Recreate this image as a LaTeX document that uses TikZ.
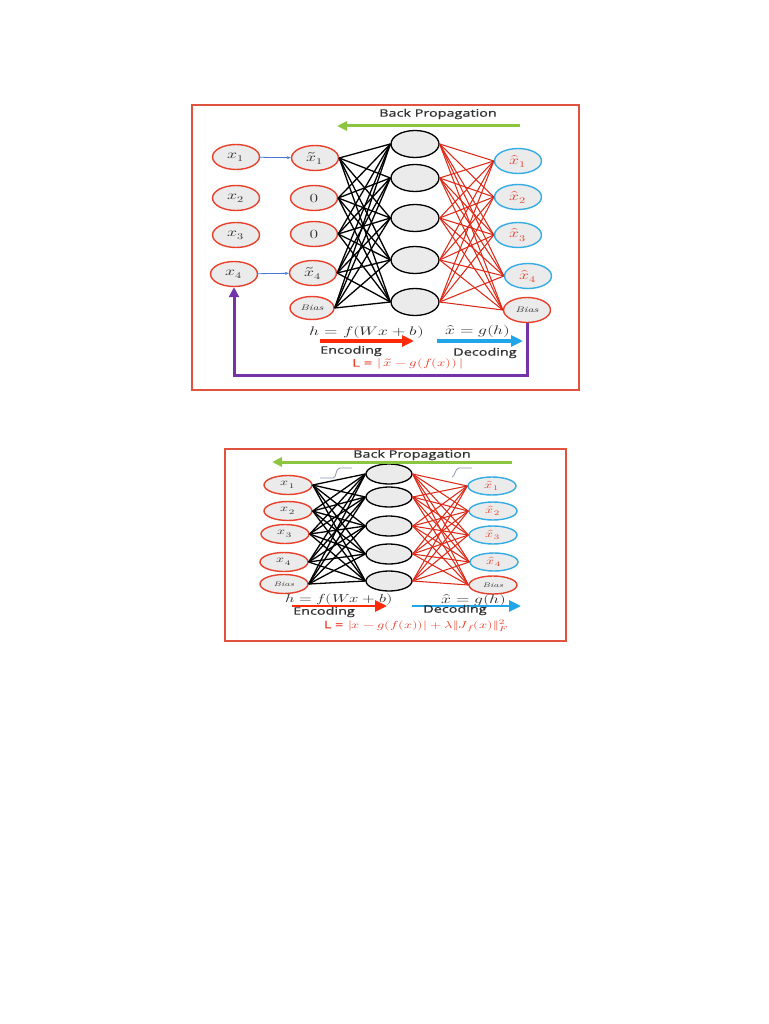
\documentclass[tikz,border=0pt]{standalone}
\usepackage{fontspec}
\usepackage{unicode-math}
\usepackage{graphicx}
\usetikzlibrary{shapes.geometric,arrows.meta}
\setmathfont{Latin Modern Math}
\newfontfamily\labelfont[FakeBold=0.8]{Open Sans}

\definecolor{framered}{HTML}{E2533F}
\definecolor{nodered}{HTML}{E8412C}
\definecolor{nodeblue}{HTML}{35ACE3}
\definecolor{nodegray}{HTML}{EBEBEB}
\definecolor{linkred}{HTML}{DD2A18}
\definecolor{bpgreen}{HTML}{8CC640}
\definecolor{encred}{HTML}{FF2A0A}
\definecolor{decblue}{HTML}{1FA5E8}
\definecolor{losspurple}{HTML}{7434A8}
\definecolor{copyblue}{HTML}{4A78D0}
\definecolor{sigmagray}{HTML}{8A94B0}
\definecolor{labelgray}{HTML}{333333}

\newcommand{\widen}[1]{\scalebox{1.4}[1]{#1}}

\tikzset{
	frame/.style={draw=framered, line width=1.3pt},
	neuron/.style={ellipse, fill=nodegray, line width=1.4pt, inner sep=0pt, text=labelgray},
	redneuron/.style={neuron, draw=nodered},
	blueneuron/.style={neuron, draw=nodeblue, text=nodered},
	hidneuron/.style={neuron, draw=black, line width=1.3pt},
	bigsize/.style={minimum width=47pt, minimum height=25pt, font=\fontsize{12.5}{12.5}\selectfont},
	smallsize/.style={minimum width=48pt, minimum height=19pt, font=\fontsize{10}{10}\selectfont},
	enclink/.style={draw=black, line width=1.3pt},
	declink/.style={draw=linkred, line width=1.05pt},
	copyarrow/.style={draw=copyblue, line width=0.8pt, -{Stealth[length=4pt,width=3pt]}},
	bparrow/.style={draw=bpgreen, line width=3pt, -{Triangle[length=10pt,width=9pt]}},
	encarrow/.style={draw=encred, line width=3.5pt, -{Triangle[length=12pt,width=11pt]}},
	decarrow/.style={draw=decblue, line width=3.5pt, -{Triangle[length=12pt,width=11pt]}},
	lossline/.style={draw=losspurple, line width=3pt, -{Triangle[length=10pt,width=10pt]}},
	sigmoid/.style={draw=sigmagray, line width=0.8pt},
	sanslabel/.style={font=\labelfont\fontsize{10.3}{12}\selectfont, text=labelgray},
	mathlabel/.style={font=\fontsize{12.4}{14}\selectfont, text=labelgray},
	losslabel/.style={font=\fontsize{10.5}{12}\selectfont, text=nodered}
}

\begin{document}
\begin{tikzpicture}[x=1pt,y=-1pt]
	\useasboundingbox[fill=white] (0,0) rectangle (768,1024);

	%%%%% Figura 1
	\draw[frame] (192,105) rectangle (579,390);

	% Entrada
	\node[redneuron, bigsize] (a1) at (236,157) {\widen{$x_1$}};
	\node[redneuron, bigsize] (a2) at (236,198) {\widen{$x_2$}};
	\node[redneuron, bigsize] (a3) at (236,235) {\widen{$x_3$}};
	\node[redneuron, bigsize] (a4) at (234,274) {\widen{$x_4$}};

	% Entrada corrompida
	\node[redneuron, bigsize] (c1) at (315,158) {\widen{$\tilde{x}_1$}};
	\node[redneuron, bigsize] (c2) at (314,198) {\widen{0}};
	\node[redneuron, bigsize] (c3) at (314,234) {\widen{0}};
	\node[redneuron, bigsize] (c4) at (313,273) {\widen{$\tilde{x}_4$}};
	\node[redneuron, bigsize, minimum width=44pt, minimum height=23pt, font=\fontsize{8}{8}\selectfont\itshape] (c5) at (312,308) {\widen{Bias}};

	% Camada oculta
	\foreach \y [count=\i] in {144,178,218,260,302}
		\node[hidneuron, minimum width=48pt, minimum height=27pt] (h\i) at (415,\y) {};

	% Saida
	\node[blueneuron, bigsize] (o1) at (518,161) {\widen{$\hat{x}_1$}};
	\node[blueneuron, bigsize] (o2) at (518,197) {\widen{$\hat{x}_2$}};
	\node[blueneuron, bigsize] (o3) at (518,235) {\widen{$\hat{x}_3$}};
	\node[blueneuron, bigsize] (o4) at (528,276) {\widen{$\hat{x}_4$}};
	\node[redneuron, bigsize, font=\fontsize{8}{8}\selectfont\itshape] (o5) at (527,310) {\widen{Bias}};

	% Ligacoes
	\foreach \i in {1,...,5}
		\foreach \j in {1,...,5} {
			\draw[enclink] (c\i.east) -- (h\j.west);
			\draw[declink] (h\i.east) -- (o\j.west);
		}
	\draw[copyarrow] (a1) -- (c1);
	\draw[copyarrow] (a4) -- (c4);

	% Back propagation
	\node[sanslabel] (bp1) at (438,114) {\widen{Back Propagation}};
	\coordinate (bpR1) at (520,126);
	\coordinate (bpL1) at (337,126);
	\draw[bparrow] (bpR1) -- (bpL1);

	% Codificacao e decodificacao
	\node[mathlabel] (fe1) at (367,332) {\widen{$h = f(Wx + b)$}};
	\coordinate (encL1) at (320,341);
	\coordinate (encR1) at (414,341);
	\draw[encarrow] (encL1) -- (encR1);
	\node[sanslabel] (enc1) at (351,351) {\widen{Encoding}};
	\node[mathlabel] (fd1) at (478,331) {\widen{$\hat{x} = g(h)$}};
	\coordinate (decL1) at (437,341);
	\coordinate (decR1) at (523,341);
	\draw[decarrow] (decL1) -- (decR1);
	\node[sanslabel] (dec1) at (485,353) {\widen{Decoding}};
	\node[losslabel] (loss1) at (408,364) {\widen{{\labelfont L =} $|\,\tilde{x} - g(f(x))\,|$}};

	% Retorno do erro
	\draw[lossline] (o5.south) -- ++(0,52) -| (a4.south);

	%%%%% Figura 2
	\draw[frame] (225,449) rectangle (566,641);

	% Entrada
	\node[redneuron, smallsize] (p1) at (288,485) {\widen{$x_1$}};
	\node[redneuron, smallsize] (p2) at (288,511) {\widen{$x_2$}};
	\node[redneuron, smallsize] (p3) at (285,534) {\widen{$x_3$}};
	\node[redneuron, smallsize] (p4) at (284,562) {\widen{$x_4$}};
	\node[redneuron, smallsize, font=\fontsize{6.5}{7}\selectfont\itshape] (p5) at (284,584) {\widen{Bias}};

	% Camada oculta
	\foreach \y [count=\i] in {474,497,526,554,581}
		\node[hidneuron, minimum width=46pt, minimum height=20pt] (q\i) at (389,\y) {};

	% Saida
	\node[blueneuron, smallsize, minimum height=18pt] (r1) at (492,486) {\widen{$\hat{x}_1$}};
	\node[blueneuron, smallsize, minimum height=18pt] (r2) at (493,511) {\widen{$\hat{x}_2$}};
	\node[blueneuron, smallsize, minimum height=18pt] (r3) at (493,535) {\widen{$\hat{x}_3$}};
	\node[blueneuron, smallsize, minimum height=18pt] (r4) at (494,562) {\widen{$\hat{x}_4$}};
	\node[redneuron, smallsize, minimum height=18pt, font=\fontsize{6.5}{7}\selectfont\itshape] (r5) at (493,585) {\widen{Bias}};

	% Ligacoes
	\foreach \i in {1,...,5}
		\foreach \j in {1,...,5} {
			\draw[enclink] (p\i.east) -- (q\j.west);
			\draw[declink] (q\i.east) -- (r\j.west);
		}

	% Funcoes de ativacao
	\draw[sigmoid] (320,478) -- (333,478) .. controls (337,478) and (335,468) .. (340,468) -- (352,468);
	\draw[sigmoid] (452,477) .. controls (455,477) and (455,468) .. (459,468) -- (472,468);

	% Back propagation
	\node[sanslabel] (bp2) at (412,455) {\widen{Back Propagation}};
	\coordinate (bpR2) at (512,462);
	\coordinate (bpL2) at (272,462);
	\draw[bparrow] (bpR2) -- (bpL2);

	% Codificacao e decodificacao
	\node[mathlabel, font=\fontsize{11.7}{13}\selectfont] (fe2) at (339,600) {\widen{$h = f(Wx + b)$}};
	\coordinate (encL2) at (292,606);
	\coordinate (encR2) at (387,606);
	\draw[encarrow, line width=2.8pt] (encL2) -- (encR2);
	\node[sanslabel] (enc2) at (324,612) {\widen{Encoding}};
	\node[mathlabel] (fd2) at (474,600) {\widen{$\hat{x} = g(h)$}};
	\coordinate (decL2) at (412,606);
	\coordinate (decR2) at (521,606);
	\draw[decarrow, line width=2.8pt] (decL2) -- (decR2);
	\node[sanslabel] (dec2) at (455,610) {\widen{Decoding}};
	\node[losslabel, font=\fontsize{10.2}{12}\selectfont] (loss2) at (416,626) {\widen{{\labelfont L =} $|x - g(f(x))| + \lambda\|J_f(x)\|_F^2$}};
\end{tikzpicture}
\end{document}
